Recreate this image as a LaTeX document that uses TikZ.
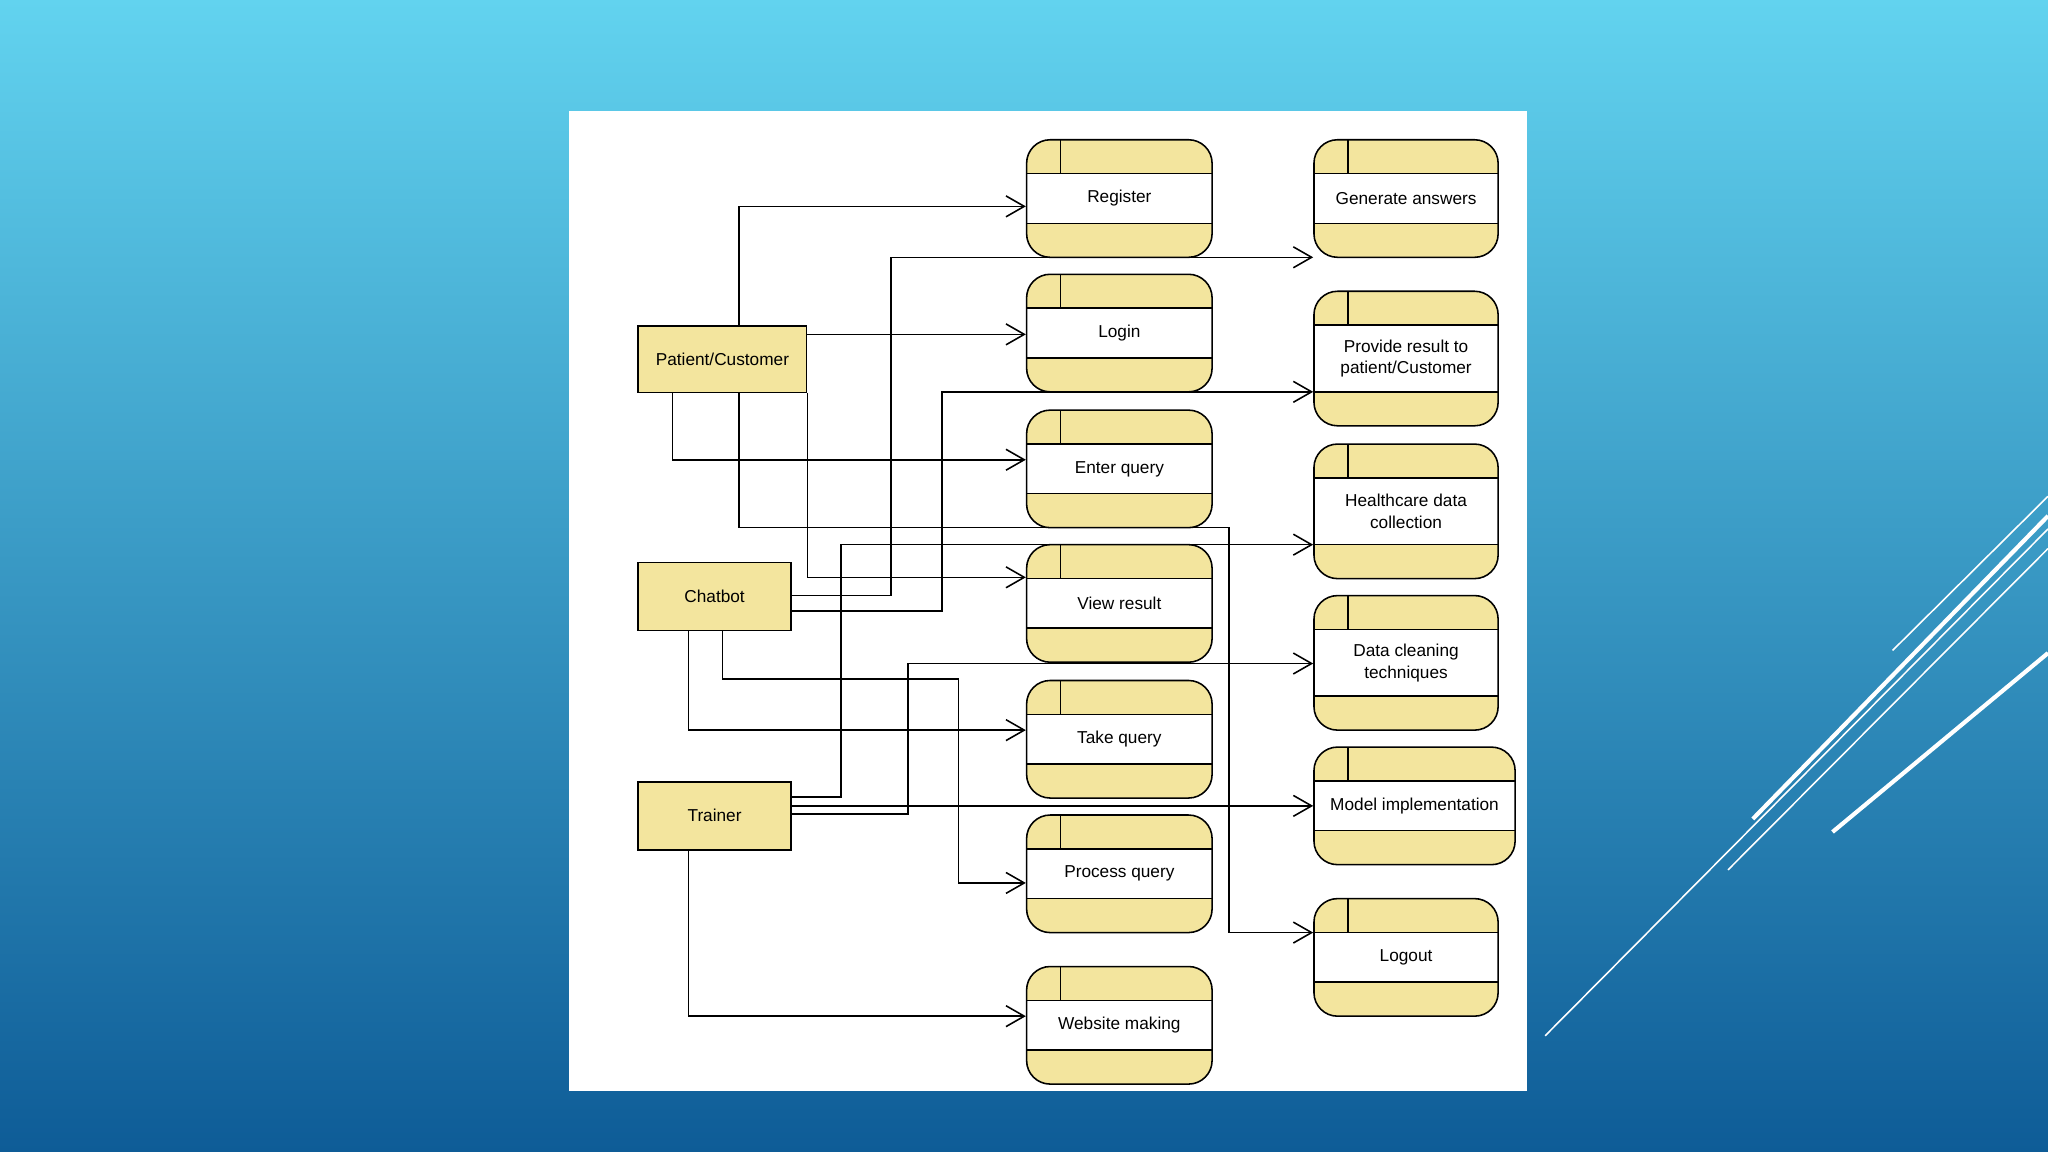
\documentclass[tikz,border=0pt]{standalone}
\usepackage{fontspec}
\setmainfont{Liberation Sans}
\usetikzlibrary{arrows.meta}
\definecolor{pyel}{HTML}{F3E59E}
\definecolor{bgtop}{HTML}{62D3EF}
\definecolor{bgbot}{HTML}{0E5C97}
\newcommand\proc[6]{%
  \fill[pyel, rounded corners=9] (#2,#3) rectangle (#4,#5);
  \fill[white] (#2,#3+26) rectangle (#4,#5-26);
  \draw[rounded corners=9] (#2,#3) rectangle (#4,#5);
  \draw (#2,#3+26) -- (#4,#3+26) (#2,#5-26) -- (#4,#5-26) (#2+26,#3) -- (#2+26,#3+26);
  \node[lbl, minimum width={(#4-#2)*0.5pt}, minimum height={(#5-#3)*0.5pt}, align=center] (#1) at ({(#2+#4)/2},{(#3+#5)/2}) {#6};}
\begin{document}
\begin{tikzpicture}[x=0.5pt,y=-0.5pt, line width=0.6pt,
  lbl/.style={font=\fontsize{6.6}{8.2}\selectfont, inner sep=0pt, text=black},
  ent/.style={lbl, draw, fill=pyel, anchor=north west},
  arr/.style={-{Straight Barb[length=7pt,width=8pt]}}]
\useasboundingbox (0,0) rectangle (1568,882);
\shade[top color=bgtop, bottom color=bgbot] (0,0) rectangle (1568,882);
\begin{scope}[white]
\draw[line width=1.6pt] (1342,627) -- (1568,395);
\draw[line width=0.6pt] (1323,666) -- (1568,420);
\draw[line width=1.6pt] (1403,637) -- (1568,500);
\draw[line width=0.6pt] (1449,498) -- (1568,380);
\draw[line width=0.6pt] (1183,793) -- (1568,405);
\end{scope}
\fill[white] (436,85) rectangle (1169,835);
% entities
\node[ent, minimum width=64.5pt, minimum height=25.5pt] (pc) at (488,249) {Patient/Customer};
\node[ent, minimum width=58.5pt, minimum height=26pt] (cb) at (488,430) {Chatbot};
\node[ent, minimum width=58.5pt, minimum height=26pt] (tr) at (488,598) {Trainer};
% processes
\proc{reg}{786}{107}{928}{197}{Register}
\proc{log}{786}{210}{928}{300}{Login}
\proc{enq}{786}{314}{928}{404}{Enter query}
\proc{vr}{786}{417}{928}{507}{View result}
\proc{tq}{786}{521}{928}{611}{Take query}
\proc{pq}{786}{624}{928}{714}{Process query}
\proc{wm}{786}{740}{928}{830}{Website making}
\proc{ga}{1006}{107}{1147}{197}{Generate answers}
\proc{pr}{1006}{223}{1147}{326}{Provide result to\\patient/Customer}
\proc{hc}{1006}{340}{1147}{443}{Healthcare data\\collection}
\proc{dc}{1006}{456}{1147}{559}{Data cleaning\\techniques}
\proc{mi}{1006}{572}{1160}{662}{Model implementation}
\proc{lo}{1006}{688}{1147}{778}{Logout}
% connectors
\draw[arr] (pc.north -| 566,0) |- (reg.west |- 0,158);
\draw[arr] (pc.east |- 0,256) -- (log.west |- 0,256);
\draw[arr] (pc.south -| 515,0) |- (enq.west |- 0,352);
\draw[arr] (pc.south -| 566,0) |- (941,404) |- (lo.west |- 0,714);
\draw[arr] (pc.south east) |- (vr.west |- 0,442);
\draw[arr] (cb.east |- 0,456) -| (682,197) -- (ga.west |- 0,197);
\draw[arr] (cb.east |- 0,468) -| (721,300) -- (pr.west |- 0,300);
\draw[arr] (cb.south -| 527,0) |- (tq.west |- 0,559);
\draw[arr] (cb.south -| 553,0) |- (734,520) |- (pq.west |- 0,676);
\draw[arr] (tr.east |- 0,610) -| (644,417) -- (hc.west |- 0,417);
\draw[arr] (tr.east |- 0,623) -| (695,508) -- (dc.west |- 0,508);
\draw[arr] (tr.east |- 0,617) -- (mi.west |- 0,617);
\draw[arr] (tr.south -| 527,0) |- (wm.west |- 0,778);
\end{tikzpicture}
\end{document}
